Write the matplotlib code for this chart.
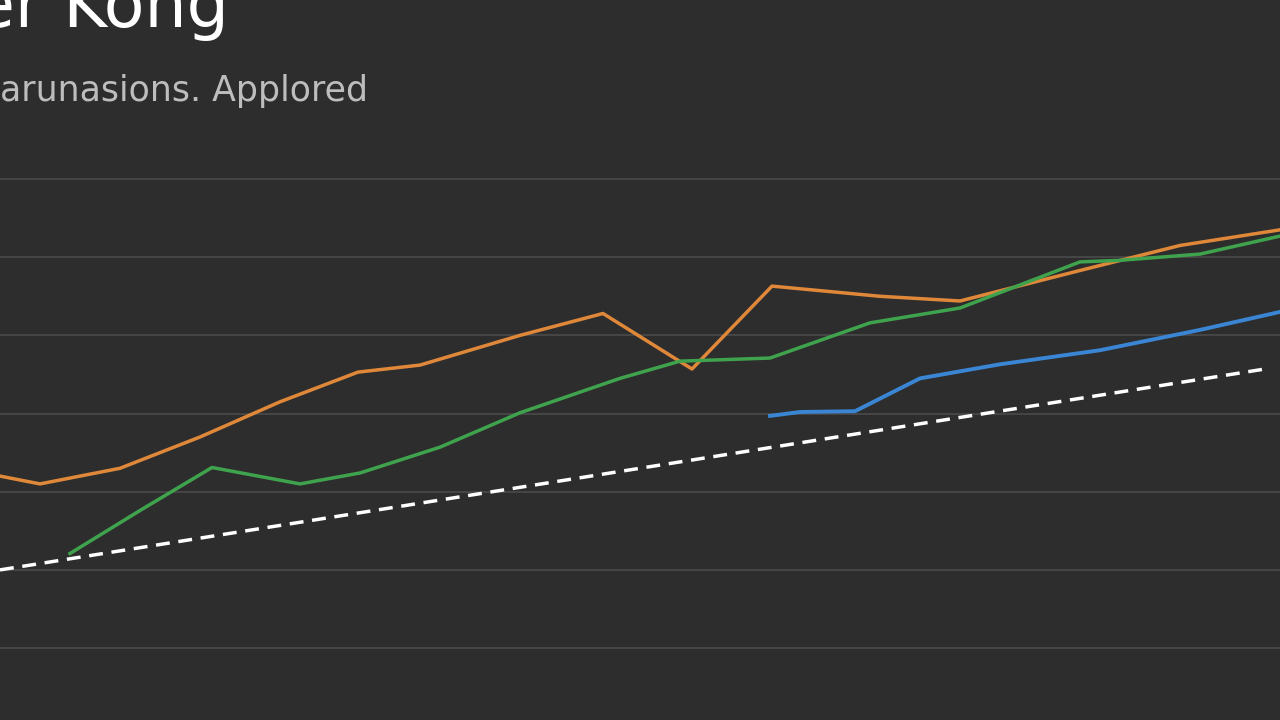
import matplotlib
matplotlib.use('Agg')
from matplotlib import pyplot as plt

# x positions (px-like scale 0..1280) and values in gridline units
orange_x = [0, 40, 120, 200, 280, 358, 420, 520, 603, 692, 772, 880, 960, 1080, 1180, 1280]
orange_y = [2.20, 2.10, 2.30, 2.70, 3.15, 3.53, 3.62, 4.00, 4.28, 3.57, 4.63, 4.50, 4.44, 4.83, 5.15, 5.35]
green_x = [70, 140, 212, 300, 360, 440, 520, 620, 680, 770, 870, 960, 1080, 1120, 1200, 1280]
green_y = [1.21, 1.76, 2.31, 2.10, 2.24, 2.57, 3.01, 3.45, 3.67, 3.71, 4.16, 4.35, 4.94, 4.96, 5.04, 5.27]
blue_x = [770, 800, 855, 920, 1000, 1100, 1200, 1280]
blue_y = [2.97, 3.02, 3.03, 3.45, 3.63, 3.81, 4.07, 4.30]
trend_x = [0, 1270]
trend_y = [1.00, 3.58]
grid_vals = [0, 1, 2, 3, 4, 5, 6]

bg = '#2d2d2d'
fig = plt.figure(figsize=(12.8, 7.2), dpi=100, facecolor=bg)
ax = fig.add_axes([0, 0, 1, 1], facecolor=bg)
ax.set_xlim(0, 1280)
ax.set_ylim(-0.92, 8.29)
for g in grid_vals:
    ax.axhline(g, color='#4a4a4a', lw=1.2, zorder=1)

ax.plot(trend_x, trend_y, color='white', lw=2.5, ls=(0, (4, 2.5)), zorder=2)
ax.plot(orange_x, orange_y, color='#e0883a', lw=2.5, zorder=3)
ax.plot(green_x, green_y, color='#3fa34d', lw=2.5, zorder=3)
ax.plot(blue_x, blue_y, color='#3a86d4', lw=2.8, zorder=3)
ax.axis('off')

fig.text(-0.02, 1.035, 'er Kong', color='white', fontsize=48, va='top', ha='left')
fig.text(0.0, 0.873, 'arunasions. Applored', color='#bdbdbd', fontsize=25,
         fontweight='medium', va='center', ha='left')

fig.savefig('out.png', facecolor=bg)
